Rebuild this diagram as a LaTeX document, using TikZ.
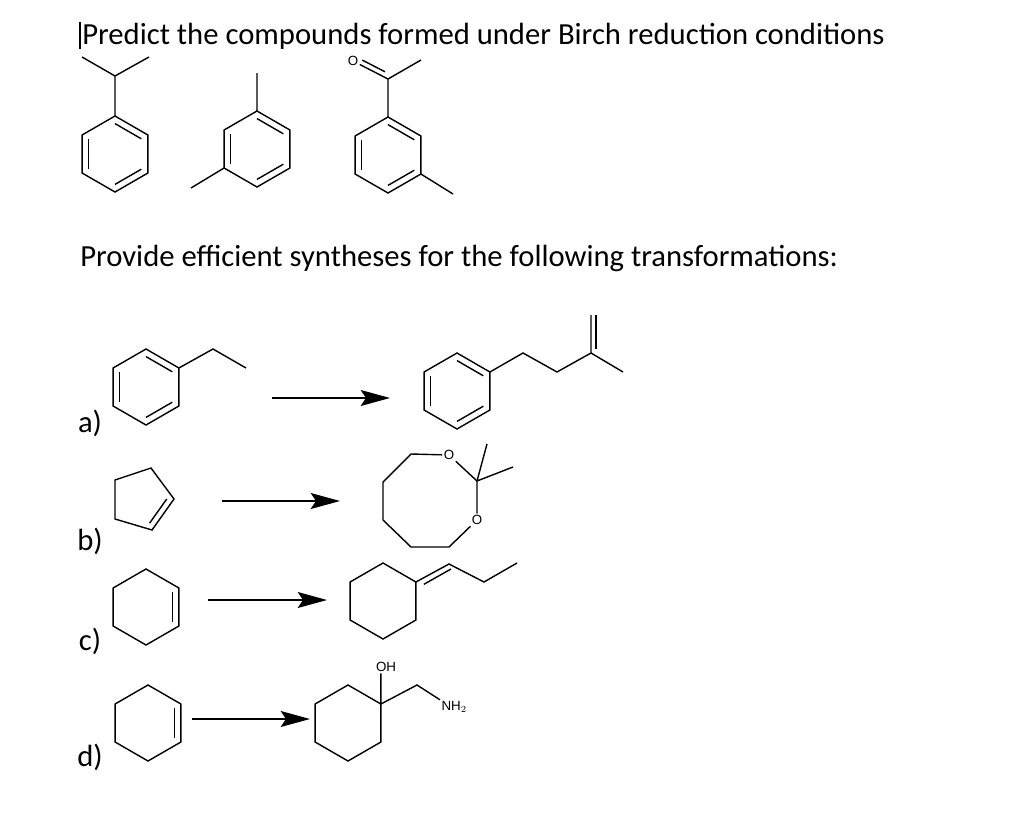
\documentclass[tikz,border=0pt]{standalone}
\usepackage{fontspec}
\setmainfont{Carlito}
\newfontfamily\arial{Liberation Sans}
\usetikzlibrary{calc,arrows.meta}
\tikzset{bond/.style={line width=1.05pt,line join=miter},
 rxn/.style={line width=1.05pt,-{Stealth[length=22pt,width=12pt,inset=4pt]}},
 atom/.style={font=\arial\fontsize{10}{12}\selectfont,inner sep=1pt},
 head/.style={font=\fontsize{23}{27}\selectfont,anchor=base west,inner sep=0pt},
 lab/.style={font=\fontsize{23}{27}\selectfont,anchor=base,inner sep=0pt}}
\newcommand\hexat[3]{\foreach \i/\a in {1/270,2/330,3/30,4/90,5/150,6/210}{\coordinate (#1\i) at ($(#2,#3)+(\a:38)$);}
 \coordinate (#1c) at (#2,#3);
 \draw[bond] (#11)--(#12)--(#13)--(#14)--(#15)--(#16)--cycle;}
\newcommand\dbl[3]{\draw[bond] ($(#3)!0.8!(#1)$) -- ($(#3)!0.8!(#2)$);}
\newcommand\kek[1]{\dbl{#11}{#12}{#1c}\dbl{#13}{#14}{#1c}\dbl{#15}{#16}{#1c}}
\begin{document}
\begin{tikzpicture}[x=0.75pt,y=-0.75pt]
\useasboundingbox (0,0) rectangle (1024,832);
\fill[white] (0,0) rectangle (1024,832);
% headings
\coordinate (cur1) at (80,22); \coordinate (cur2) at (80,49);
\draw[line width=0.8pt] (cur1) -- (cur2);
\node[head] (t1) at (82,44) {Predict the compounds formed under Birch reduction conditions};
\node[head] (t2) at (80,266) {Provide efficient syntheses for the following transformations:};
% molecule 1: isopropylbenzene
\hexat{m}{115}{154}\kek{m}
\coordinate (m7) at (115,76); \coordinate (m8) at (82,57); \coordinate (m9) at (149,57);
\draw[bond] (m1)--(m7) (m8)--(m7)--(m9);
% molecule 2: m-xylene
\hexat{x}{257}{149}\kek{x}
\coordinate (x7) at (257,73); \coordinate (x8) at (191,188);
\draw[bond] (x1)--(x7) (x5)--(x8);
% molecule 3: 3-methylacetophenone
\hexat{k}{388}{155}\kek{k}
\coordinate (k7) at (388,79); \coordinate (k9) at (421,60); \coordinate (k10) at (453,194);
\node[atom] (kO) at (353,61) {O};
\draw[bond] (k1)--(k7)--(k9) (k3)--(k10) (k7)--(kO);
\draw[bond] ($(k7)!0.15!(kO)+(2.3,-4.5)$) -- ($(k7)!0.8!(kO)+(2.3,-4.5)$);
% a)
\node[lab] (la) at (90,432) {a)};
\hexat{a}{146}{387}\kek{a}
\coordinate (a7) at (213,349); \coordinate (a8) at (246,368);
\draw[bond] (a2)--(a7)--(a8);
\coordinate (ra1) at (272,398); \coordinate (ra2) at (390,398);
\draw[rxn] (ra1) -- (ra2);
\hexat{p}{457}{391}\kek{p}
\coordinate (p7) at (523,353); \coordinate (p8) at (557,372); \coordinate (p9) at (591,353);
\coordinate (p10) at (623,372); \coordinate (p11) at (591,315);
\draw[bond] (p2)--(p7)--(p8)--(p9)--(p10) (p9)--(p11);
\draw[bond] ($(p9)+(5,-4)$) -- ($(p11)+(5,0)$);
% b)
\node[lab] (lb) at (90,550) {b)};
\coordinate (b1) at (115,480); \coordinate (b2) at (151,468); \coordinate (b3) at (174,499);
\coordinate (b4) at (152,530); \coordinate (b5) at (115,519); \coordinate (bc) at (141,499);
\draw[bond] (b1)--(b2)--(b3)--(b4)--(b5)--cycle;
\draw[bond] ($(bc)!0.78!(b3)$) -- ($(bc)!0.78!(b4)$);
\coordinate (rb1) at (222,501); \coordinate (rb2) at (340,501);
\draw[rxn] (rb1) -- (rb2);
\node[atom] (o1) at (449,455) {O};
\node[atom] (o2) at (477,520) {O};
\coordinate (q2) at (477,481); \coordinate (q4) at (449,547); \coordinate (q5) at (411,547);
\coordinate (q6) at (383,520); \coordinate (q7) at (383,482); \coordinate (q8) at (411,454);
\coordinate (q9) at (487,444); \coordinate (q10) at (513,467);
\draw[bond] (o1)--(q2)--(o2)--(q4)--(q5)--(q6)--(q7)--(q8)--(o1);
\draw[bond] (q2)--(q9) (q2)--(q10);
% c)
\node[lab] (lc) at (90,650) {c)};
\hexat{c}{146}{607}\dbl{c2}{c3}{cc}
\coordinate (rc1) at (208,600); \coordinate (rc2) at (327,600);
\draw[rxn] (rc1) -- (rc2);
\hexat{e}{383}{601}
\coordinate (e7) at (449,564); \coordinate (e8) at (484,582); \coordinate (e9) at (517,563);
\draw[bond] (e2)--(e7)--(e8)--(e9);
\draw[bond] ($(e2)!0.15!(e7)+(3,5)$) -- ($(e7)+(2,5)$);
% d)
\node[lab] (ld) at (90,766) {d)};
\hexat{d}{148}{723}\dbl{d2}{d3}{dc}
\coordinate (rd1) at (192,719); \coordinate (rd2) at (310,719);
\draw[rxn] (rd1) -- (rd2);
\hexat{f}{348}{723}
\node[atom] (fOH) at (386,667) {OH};
\coordinate (f7) at (417,685);
\node[atom,anchor=west] (fN) at (440,707) {NH$_2$};
\draw[bond] (f2)--(fOH.south -| f2) (f2)--(f7)--(fN.north west);
\end{tikzpicture}
\end{document}
